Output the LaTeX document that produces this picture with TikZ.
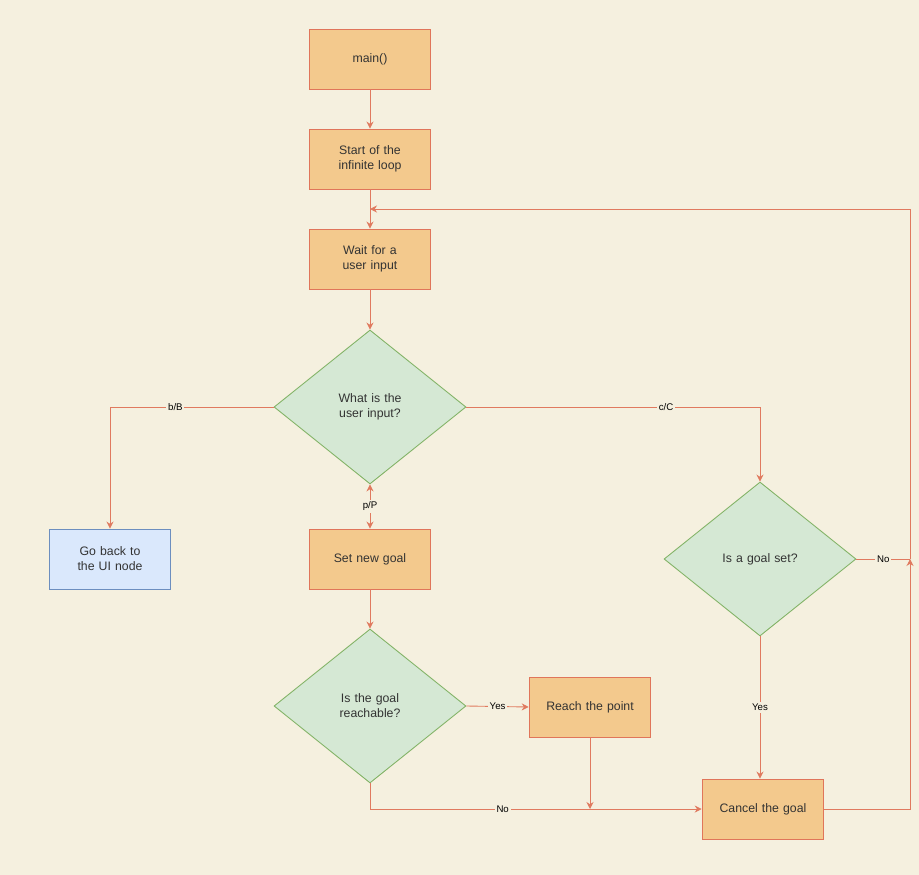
\documentclass[tikz,border=0pt]{standalone}
\usepackage{fontspec}
\setmainfont{Liberation Sans}
\usetikzlibrary{arrows.meta,shapes.geometric,positioning}
\definecolor{PageBackground}{HTML}{F5F0DF}
\definecolor{StepFill}{HTML}{F3C98D}
\definecolor{StepLine}{HTML}{E0755A}
\definecolor{DecisionFill}{HTML}{D5E8D4}
\definecolor{DecisionLine}{HTML}{82B366}
\definecolor{ExitFill}{HTML}{DAE8FC}
\definecolor{ExitLine}{HTML}{6C8EBF}
\definecolor{LinkColour}{HTML}{E07A5F}
\definecolor{TextColour}{HTML}{333333}
\tikzstyle{StepNode}=[rectangle,fill=StepFill,draw=StepLine,minimum width=2.4cm,minimum height=1.2cm,text width=2.2cm,align=center,text=TextColour]
\tikzstyle{ExitNode}=[StepNode,fill=ExitFill,draw=ExitLine]
\tikzstyle{DecisionNode}=[diamond,fill=DecisionFill,draw=DecisionLine,minimum width=3.84cm,minimum height=3.08cm,inner sep=0pt,text width=2.3cm,align=center,text=TextColour]
\tikzstyle{Link}=[draw=LinkColour,-{Stealth[length=4pt,width=4pt]}]
\tikzstyle{EdgeLabel}=[fill=PageBackground,inner sep=1pt,font=\fontsize{5.5}{6}\selectfont,text=black]

\begin{document}
\begin{tikzpicture}[x=0.02cm,y=-0.02cm,font=\fontsize{7}{8.5}\selectfont,line width=0.5pt]
  \fill[PageBackground] (0,0) rectangle (919,875);
  \useasboundingbox (0,0) rectangle (919,875);

  \node[StepNode](Main) at (370,59){main()};
  \node[StepNode](LoopStart) at (370,159){Start of the infinite loop};
  \node[StepNode](WaitInput) at (370,259){Wait for a user input};
  \node[DecisionNode](UserInput) at (370,407){What is the user input?};
  \node[ExitNode](GoBack) at (110,559){Go back to the UI node};
  \node[StepNode](SetGoal) at (370,559){Set new goal};
  \node[DecisionNode](Reachable) at (370,706){Is the goal reachable?};
  \node[StepNode](ReachPoint) at (590,707){Reach the point};
  \node[DecisionNode](GoalSet) at (760,559){Is a goal set?};
  \node[StepNode](CancelGoal) at (763,809){Cancel the goal};

  \coordinate (LoopCorner) at (910,559);
  \coordinate (LoopTop) at (910,209);
  \coordinate (LoopEnd) at (370,209);
  \coordinate (ReachEnd) at (590,809);

  \draw[Link] (Main) -- (LoopStart);
  \draw[Link] (LoopStart) -- (WaitInput);
  \draw[Link] (WaitInput) -- (UserInput);
  \draw[Link] (UserInput.west) -| node[EdgeLabel,pos=0.3]{b/B} (GoBack.north);
  \draw[Link] (UserInput.east) -| node[EdgeLabel,pos=0.34]{c/C} (GoalSet.north);
  \draw[Link,{Stealth[length=4pt,width=4pt]}-{Stealth[length=4pt,width=4pt]}] (UserInput.south) -- node[EdgeLabel]{p/P} (SetGoal.north);
  \draw[Link] (SetGoal) -- (Reachable);
  \draw[Link] (Reachable.east) -- node[EdgeLabel]{Yes} (ReachPoint.west);
  \draw[Link] (Reachable.south) |- node[EdgeLabel,pos=0.7]{No} (CancelGoal.west);
  \draw[Link] (ReachPoint.south) -- (ReachEnd);
  \draw[Link] (GoalSet.south) -- node[EdgeLabel,pos=0.5]{Yes} (GoalSet.south |- CancelGoal.north);
  \draw[draw=LinkColour] (GoalSet.east) -- node[EdgeLabel,pos=0.5]{No} (LoopCorner);
  \draw[Link] (CancelGoal.east) -| (LoopCorner);
  \draw[Link] (LoopCorner) -- (LoopTop) -- (LoopEnd);
\end{tikzpicture}
\end{document}
